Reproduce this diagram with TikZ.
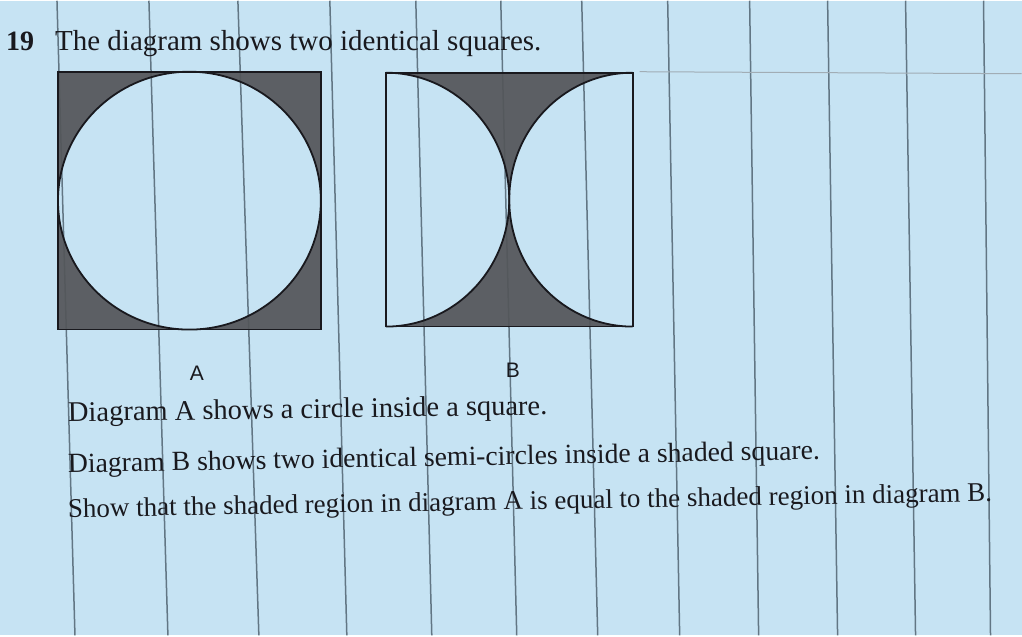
\documentclass[tikz,border=0pt]{standalone}
\usepackage{fontspec}
\setmainfont{Liberation Serif}
\newfontfamily\labelfont{Liberation Sans}
\definecolor{paper}{RGB}{198,227,243}
\definecolor{ruling}{RGB}{98,118,132}
\definecolor{ink}{RGB}{25,25,30}
\definecolor{darkfill}{RGB}{84,86,90}

\begin{document}
\begin{tikzpicture}
[
    x=1pt, y=-1pt,
    txt/.style={anchor=base west, inner sep=0pt, text=ink, font=\fontsize{#1}{30}\selectfont},
    txt/.default=28,
    lbl/.style={anchor=base, inner sep=0pt, text=ink, font=\labelfont\fontsize{21}{24}\selectfont},
    edge/.style={draw=ink, line width=1.8pt},
]
\fill[paper] (0,0) rectangle (1022,635);
% lines of the sheet behind
\foreach \xt/\xb in {57/75, 149/168, 238/259, 330/347, 416/432, 501/517, 582/598, 668/680, 750/759, 828/838, 906/916, 984/991}
    \draw[ruling, line width=1.5pt] (\xt,0) -- (\xb,635);
\draw[ruling!60, line width=1pt] (640,71) -- (1022,73);

% diagram A
\fill[darkfill, opacity=0.93, even odd rule] (58,71) rectangle (321,329)
    (189.5,200) ellipse [x radius=131.5pt, y radius=129pt];
\draw[edge] (58,71) rectangle (321,329);
\draw[edge] (189.5,200) ellipse [x radius=131.5pt, y radius=129pt];

% diagram B
\fill[darkfill, opacity=0.93, even odd rule] (386,72) rectangle (633,326)
    (386,72) arc [start angle=90, end angle=-90, x radius=123.5pt, y radius=127pt] -- cycle
    (633,72) arc [start angle=90, end angle=270, x radius=123.5pt, y radius=127pt] -- cycle;
\draw[edge] (386,72) rectangle (633,326);
\draw[edge] (386,72) arc [start angle=90, end angle=-90, x radius=123.5pt, y radius=127pt];
\draw[edge] (633,72) arc [start angle=90, end angle=270, x radius=123.5pt, y radius=127pt];

% texts
\node[txt, font=\bfseries\fontsize{28}{30}\selectfont] (num) at (6,50) {19};
\node[txt=29] (title) at (55,50) {The diagram shows two identical squares.};
\node[lbl] (labA) at (197,380) {A};
\node[lbl] (labB) at (513,377) {B};
\node[txt=28.5, rotate=0.8] (lineA) at (68,421) {Diagram A shows a circle inside a square.};
\node[txt=27.7, rotate=1] (lineB) at (68,472) {Diagram B shows two identical semi-circles inside a shaded square.};
\node[txt=27, rotate=1] (lineC) at (68,517) {Show that the shaded region in diagram A is equal to the shaded region in diagram B.};
\end{tikzpicture}
\end{document}
